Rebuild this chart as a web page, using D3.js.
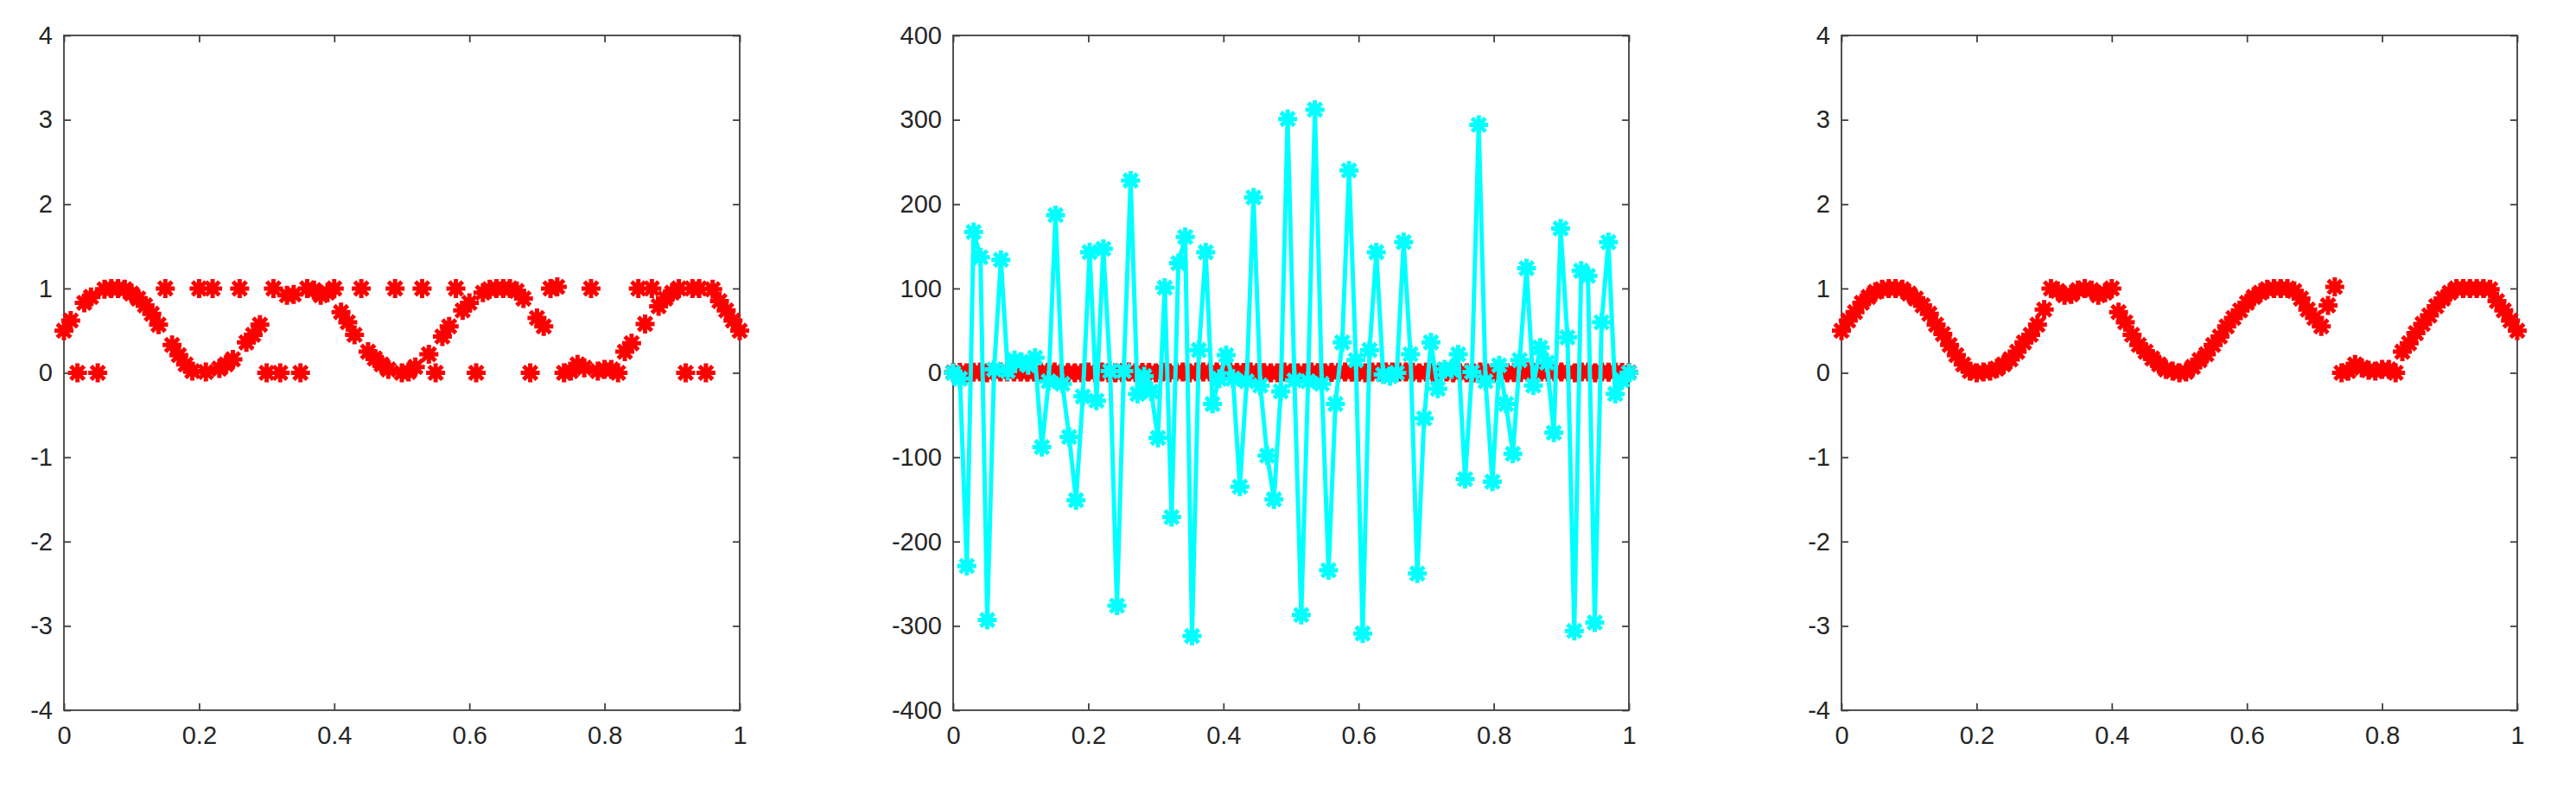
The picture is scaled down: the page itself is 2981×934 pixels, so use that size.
<!DOCTYPE html>
<html>
<head>
<meta charset="utf-8">
<script src="https://cdn.jsdelivr.net/npm/d3@7"></script>
<style>
    body { margin: 0; background: #fff; }
    .axis text { font-family: "Liberation Sans", Arial, sans-serif; font-size: 29px; fill: #262626; }
    .axis line { stroke: #404040; stroke-width: 1.8; }
    .axis .domain { display: none; }
    .box { fill: none; stroke: #404040; stroke-width: 1.8; }
</style>
</head>
<body>
<div id="chart"></div>
<script>

// tick labels
const xTicks = [0, 0.2, 0.4, 0.6, 0.8, 1];
const signalTicks = [-4, -3, -2, -1, 0, 1, 2, 3, 4];
const coefTicks = [-400, -300, -200, -100, 0, 100, 200, 300, 400];

// corrupted samples (left panel), 101 samples on [0,1]
const corrupted = [
    0.50, 0.62, 0, 0.83, 0.90, 0, 0.99, 1.00, 1.00, 0.99,
    0.94, 0.88, 0.80, 0.70, 0.57, 1, 0.33, 0.21, 0.10, 0.02,
    1, 0.01, 1, 0.05, 0.10, 0.16, 1, 0.36, 0.45, 0.57,
    0, 1.00, 0, 0.92, 0.93, 0, 1.00, 0.98, 0.92, 0.95,
    1.00, 0.72, 0.60, 0.45, 1, 0.25, 0.17, 0.10, 0.04, 1,
    0.00, 0.01, 0.07, 1, 0.22, 0, 0.43, 0.55, 1, 0.74,
    0.83, 0, 0.95, 0.99, 1.00, 1.00, 1.00, 0.97, 0.88, 0,
    0.65, 0.55, 1, 1.02, 0.00, 0.02, 0.10, 0.06, 1, 0.02,
    0.04, 0.04, 0.00, 0.25, 0.35, 1, 0.58, 1, 0.79, 0.88,
    0.95, 1.00, 0, 1.00, 1.00, 0, 0.99, 0.85, 0.74, 0.62,
    0.50
];

// recovered samples (right panel)
const recovered = [
    0.50, 0.62, 0.72, 0.83, 0.90, 0.96, 0.99, 1.00, 1.00, 0.99,
    0.94, 0.88, 0.80, 0.70, 0.57, 0.46, 0.33, 0.21, 0.10, 0.02,
    0.00, 0.01, 0.02, 0.05, 0.10, 0.16, 0.25, 0.36, 0.45, 0.57,
    0.75, 1.00, 0.97, 0.92, 0.93, 0.98, 1.00, 0.98, 0.92, 0.95,
    1.00, 0.72, 0.60, 0.45, 0.33, 0.25, 0.17, 0.10, 0.04, 0.02,
    0.00, 0.01, 0.07, 0.15, 0.22, 0.33, 0.43, 0.55, 0.65, 0.74,
    0.83, 0.90, 0.95, 0.99, 1.00, 1.00, 1.00, 0.97, 0.88, 0.75,
    0.65, 0.55, 0.80, 1.02, 0.00, 0.02, 0.10, 0.06, 0.03, 0.02,
    0.04, 0.04, 0.00, 0.25, 0.35, 0.47, 0.58, 0.68, 0.79, 0.88,
    0.95, 1.00, 1.00, 1.00, 1.00, 1.00, 0.99, 0.85, 0.74, 0.62,
    0.50
];

// coefficients (middle panel, cyan), 100 samples on [0,1]
const coefficients = [
    0, -7, -229, 167, 137, -293, 4, 134, 2, 15,
    13, 9, 18, -88, -10, 187, -13, -76, -151, -28,
    143, -33, 147, 2, -276, 2, 228, -25, -4, -22,
    -77, 101, -171, 130, 161, -312, 27, 143, -37, -7,
    21, -7, -135, -10, 208, -15, -98, -150, -22, 301,
    -9, -287, -10, 312, -13, -234, -37, 36, 240, 15,
    -309, 27, 143, -2, -4, 0, 155, 22, -238, -54,
    36, -19, 4, 4, 22, -126, 1, 294, -10, -129,
    9, -37, -96, 15, 124, -15, 30, 12, -71, 171,
    42, -306, 121, 115, -296, 60, 155, -25, -9, 0
];

// sample positions, evenly spaced like linspace(0,1,n)
function samplePositions(n) {
    return d3.range(n).map(i => i / (n - 1));
}

// matlab style '*' marker: four strokes through the centre
function asterisk(r) {
    let p = "";
    [0, 45, 90, 135].forEach(a => {
        let t = a * Math.PI / 180;
        let dx = r * Math.cos(t), dy = r * Math.sin(t);
        p += `M${-dx},${-dy}L${dx},${dy}`;
    });
    return p;
}

class PanelVis {

    constructor(_svg, _left, _yTicks) {
        this.svg = _svg;
        this.left = _left;
        this.yTicks = _yTicks;

        this.initVis();
    }

    initVis() {
        let vis = this;

        vis.top = 41;
        vis.width = 782;
        vis.height = 781;
        vis.tick = 8;

        vis.g = vis.svg.append("g")
            .attr("transform", "translate(" + vis.left + "," + vis.top + ")");

        vis.x = d3.scaleLinear()
            .domain([0, 1])
            .range([0, vis.width]);

        vis.y = d3.scaleLinear()
            .domain(d3.extent(vis.yTicks))
            .range([vis.height, 0]);

        // labelled axes, ticks pointing inwards
        vis.g.append("g")
            .attr("class", "axis x-axis")
            .attr("transform", "translate(0," + vis.height + ")")
            .call(d3.axisBottom(vis.x).tickValues(xTicks).tickFormat(d => String(d))
                .tickSizeInner(-vis.tick).tickSizeOuter(0).tickPadding(18));

        vis.g.append("g")
            .attr("class", "axis y-axis")
            .call(d3.axisLeft(vis.y).tickValues(vis.yTicks).tickFormat(d => String(d))
                .tickSizeInner(-vis.tick).tickSizeOuter(0).tickPadding(13));

        // mirrored ticks on top and right
        vis.g.append("g")
            .attr("class", "axis")
            .call(d3.axisTop(vis.x).tickValues(xTicks).tickFormat("")
                .tickSizeInner(-vis.tick).tickSizeOuter(0));

        vis.g.append("g")
            .attr("class", "axis")
            .attr("transform", "translate(" + vis.width + ",0)")
            .call(d3.axisRight(vis.y).tickValues(vis.yTicks).tickFormat("")
                .tickSizeInner(-vis.tick).tickSizeOuter(0));

        vis.g.append("rect")
            .attr("class", "box")
            .attr("width", vis.width)
            .attr("height", vis.height);

        vis.marks = vis.g.append("g");
    }

    addLine(values, color) {
        let vis = this;
        let xs = samplePositions(values.length);

        let line = d3.line()
            .x((d, i) => vis.x(xs[i]))
            .y(d => vis.y(d));

        vis.marks.append("path")
            .datum(values)
            .attr("d", line)
            .attr("fill", "none")
            .attr("stroke", color)
            .attr("stroke-width", 5)
            .attr("stroke-linejoin", "round");
    }

    addMarkers(values, color) {
        let vis = this;
        let xs = samplePositions(values.length);

        vis.marks.append("g")
            .selectAll("path")
            .data(values)
            .enter()
            .append("path")
            .attr("d", asterisk(11))
            .attr("transform", (d, i) => "translate(" + vis.x(xs[i]) + "," + vis.y(d) + ")")
            .attr("fill", "none")
            .attr("stroke", color)
            .attr("stroke-width", 5);
    }
}

let svg = d3.select("#chart").append("svg")
    .attr("width", 2981)
    .attr("height", 934)
    .style("display", "block");

svg.append("rect")
    .attr("width", 2981)
    .attr("height", 934)
    .attr("fill", "#fff");

let leftPanel = new PanelVis(svg, 74, signalTicks);
leftPanel.addMarkers(corrupted, "#ff0000");

let middlePanel = new PanelVis(svg, 1103, coefTicks);
middlePanel.addMarkers(corrupted, "#ff0000");
middlePanel.addLine(coefficients, "#00ffff");
middlePanel.addMarkers(coefficients, "#00ffff");

let rightPanel = new PanelVis(svg, 2131, signalTicks);
rightPanel.addMarkers(recovered, "#ff0000");

</script>
</body>
</html>
